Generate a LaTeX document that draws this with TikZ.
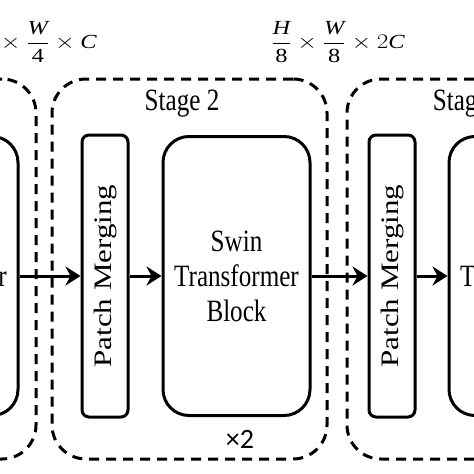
\documentclass[tikz,border=0pt]{standalone}
\usepackage{amsmath}
\usepackage{fontspec}
\setmainfont{Liberation Serif}
\newfontfamily\countfont{Carlito}
\usetikzlibrary{arrows.meta}

\newcommand{\dimfrac}[2]{\genfrac{}{}{}{0}{\text{\itshape #1}}{\text{#2}}}

\begin{document}
\begin{tikzpicture}[x=1pt,y=-1pt,
	block/.style={draw,line width=3pt,rounded corners=26pt,minimum width=147pt,minimum height=279pt,inner sep=0pt},
	merge/.style={draw,line width=3pt,rounded corners=7pt,minimum width=46pt,minimum height=282pt,inner sep=0pt},
	stagebox/.style={draw,line width=3pt,dash pattern=on 10pt off 7pt,rounded corners=34pt,minimum height=380pt,inner sep=0pt},
	flow/.style={line width=3pt,-{Stealth[length=15pt,width=19pt,inset=5pt]}},
	txt/.style={font=\fontsize{31}{35}\selectfont,xscale=0.81,align=center},
	dims/.style={font=\fontsize{20}{20}\selectfont,xscale=1.22}]

	\useasboundingbox (0,0) rectangle (474,474);
	\clip (0,0) rectangle (474,474);

	% stages
	\node[stagebox,minimum width=286pt] (stageA) at (-107,269) {};
	\node[stagebox,minimum width=275pt] (stageB) at (189.5,269) {};
	\node[stagebox,minimum width=280pt] (stageC) at (487,269) {};
	\node[txt,anchor=base] (stageBname) at (182,110) {Stage 2};
	\node[txt,anchor=base west] (stageCname) at (430,110) {Stage 3};

	% blocks
	\node[block] (swinA) at (-55.5,276) {};
	\node[merge] (mergeB) at (105,276) {};
	\node[block] (swinB) at (236.5,276) {};
	\node[merge] (mergeC) at (392,276) {};
	\node[block] (swinC) at (522.5,276) {};

	\node[txt] (swinAtext) at (swinA) {Swin\\Transformer\\Block};
	\node[txt] (swinBtext) at (swinB) {Swin\\Transformer\\Block};
	\node[txt] (swinCtext) at (swinC) {Swin\\Transformer\\Block};
	\node[txt,rotate=90] (mergeBtext) at (mergeB) {Patch Merging};
	\node[txt,rotate=90] (mergeCtext) at (mergeC) {Patch Merging};

	\node[font=\countfont\fontsize{28}{28}\selectfont,anchor=base] (repeatB) at (240,448) {×2};

	% feature sizes
	\node[dims,anchor=east] (dimA) at (101,42) {$\dimfrac{H}{4}\times\dimfrac{W}{4}\times\text{\itshape C}$};
	\node[dims,anchor=east] (dimB) at (409,42) {$\dimfrac{H}{8}\times\dimfrac{W}{8}\times2\text{\itshape C}$};

	\draw[flow] (swinA.east) -- (mergeB.west);
	\draw[flow] (mergeB.east) -- (swinB.west);
	\draw[flow] (swinB.east) -- (mergeC.west);
	\draw[flow] (mergeC.east) -- (swinC.west);

\end{tikzpicture}
\end{document}
